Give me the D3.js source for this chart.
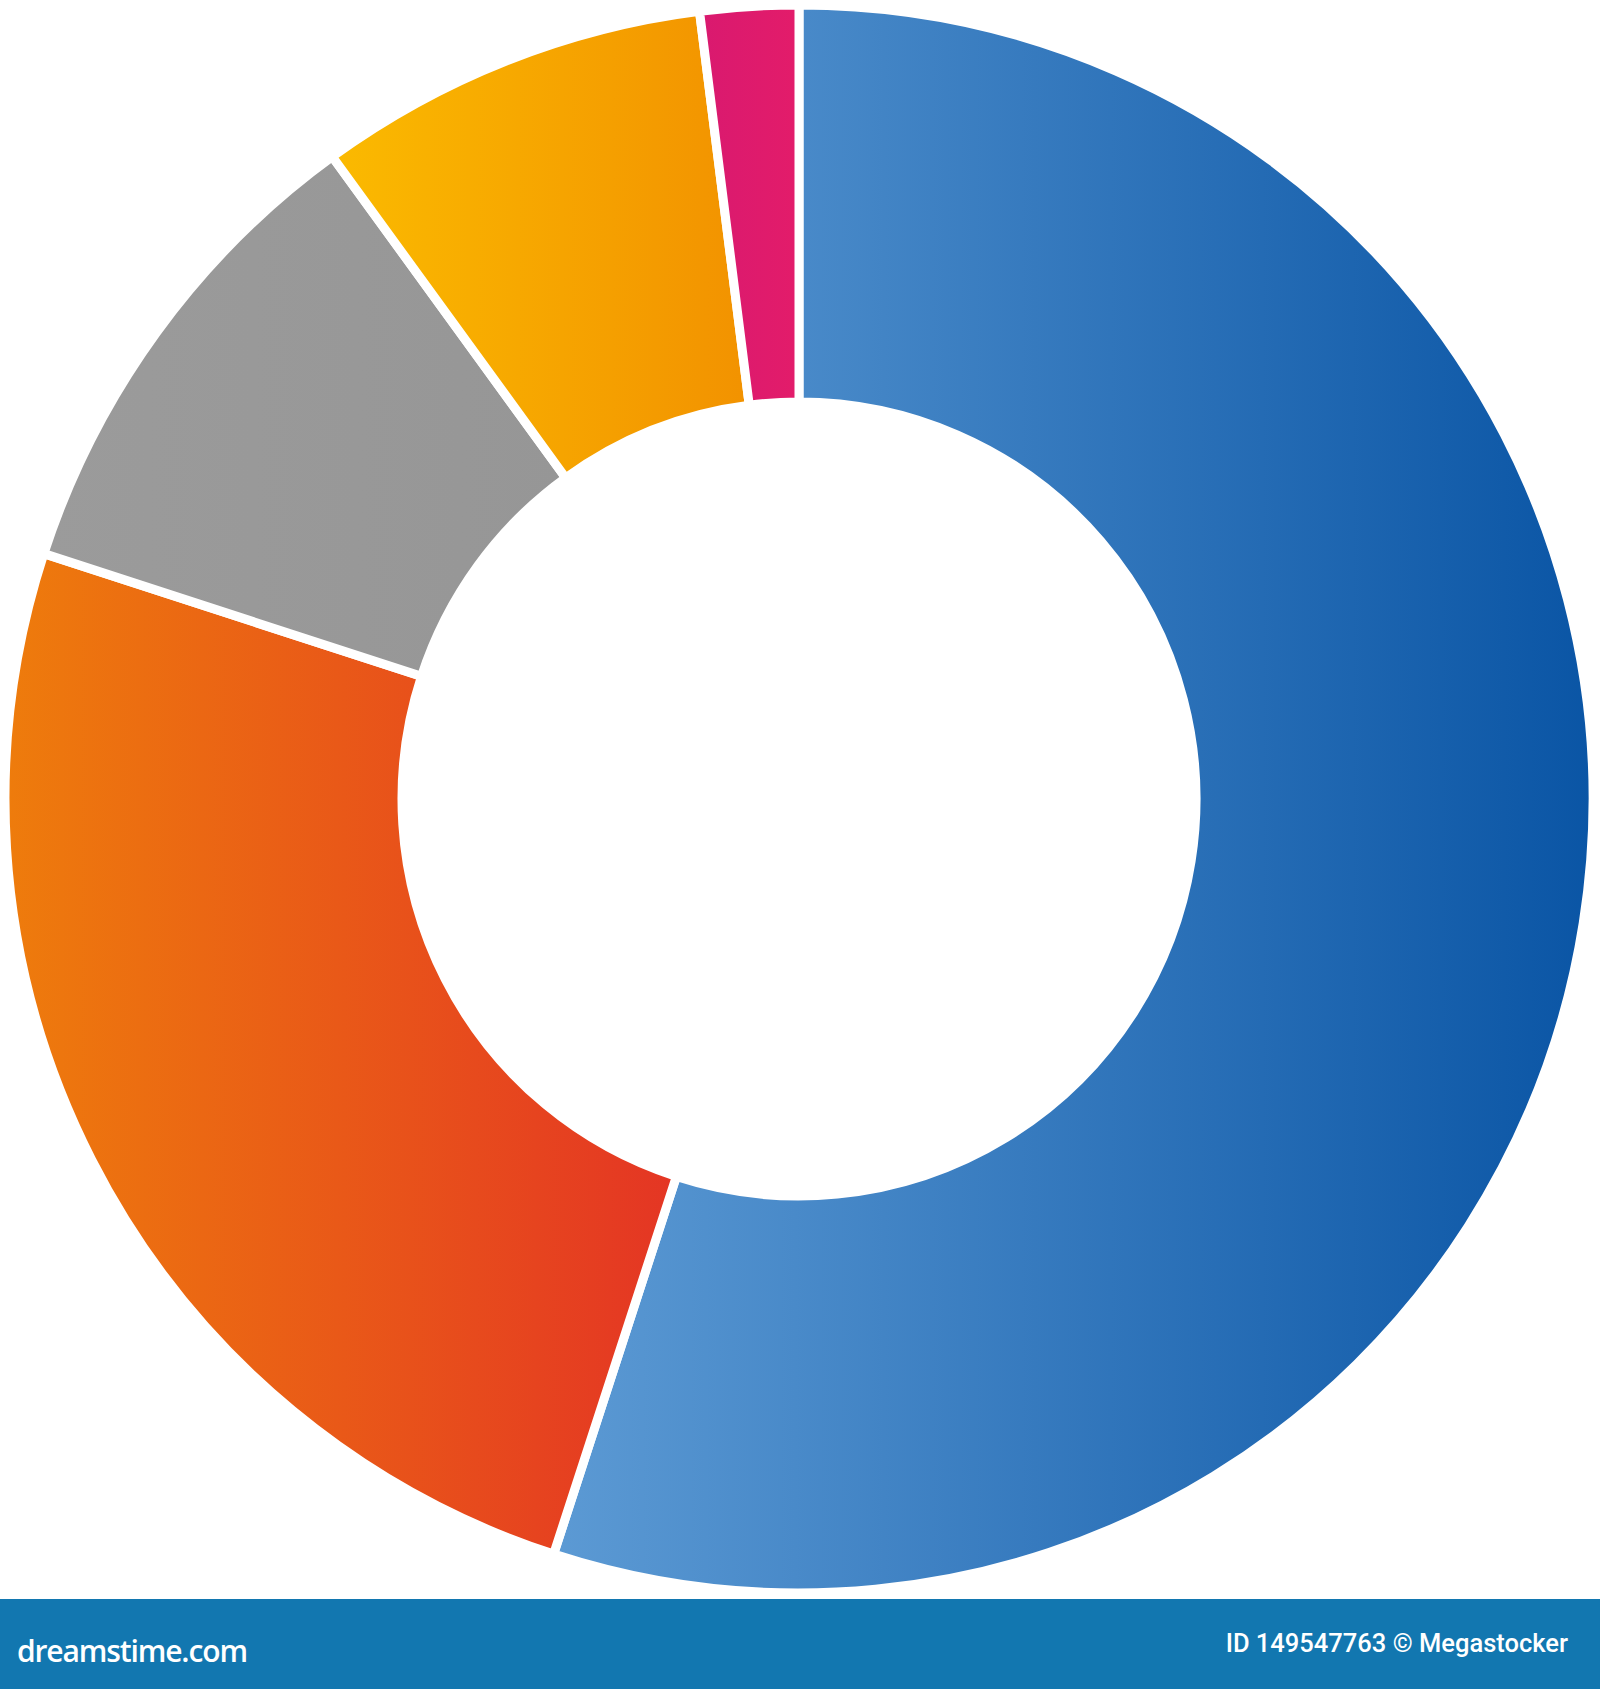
<!DOCTYPE html>
<html>
<head>
<meta charset="utf-8">
<script src="https://cdn.jsdelivr.net/npm/d3@7"></script>
<style>
  html, body { margin: 0; padding: 0; background: #fff; }
  svg { display: block; }
</style>
</head>
<body>
<svg id="chart" width="1600" height="1689"></svg>
<script>
const categories = ["Blue", "Orange", "Gray", "Yellow", "Pink"];
const values = [55, 25, 10, 8, 2];
const gradientStops = [
  ["#5c9ad4", "#0a55a5"],
  ["#ee7c0c", "#e43524"],
  ["#9b9b9b", "#969696"],
  ["#fbba00", "#f29200"],
  ["#d9196f", "#e31c6a"]
];
const footerLeft = "dreamstime.com";
const footerRight = "ID 149547763 \u00A9 Megastocker";

const svg = d3.select("#chart");
const W = 1600, H = 1689;
const cx = 799, cy = 799;
const outerR = 794, innerR = 397;

const defs = svg.append("defs");
categories.forEach((c, i) => {
  const g = defs.append("linearGradient")
    .attr("id", "grad" + i)
    .attr("x1", "0").attr("y1", "0").attr("x2", "1").attr("y2", "0");
  g.append("stop").attr("offset", "0%").attr("stop-color", gradientStops[i][0]);
  g.append("stop").attr("offset", "100%").attr("stop-color", gradientStops[i][1]);
});

const pie = d3.pie().sort(null).value(d => d.v);
const data = categories.map((c, i) => ({ c, v: values[i], i }));
const arc = d3.arc().innerRadius(innerR).outerRadius(outerR);

const g = svg.append("g").attr("transform", `translate(${cx},${cy})`);
g.selectAll("path")
  .data(pie(data))
  .join("path")
  .attr("d", arc)
  .attr("fill", d => `url(#grad${d.data.i})`)
  .attr("stroke", "#fff")
  .attr("stroke-width", 9)
  .attr("stroke-linejoin", "miter");

// footer band
svg.append("rect")
  .attr("x", 0).attr("y", 1599).attr("width", W).attr("height", H - 1599)
  .attr("fill", "#1277b0");
svg.append("text")
  .attr("x", 17).attr("y", 1662)
  .attr("fill", "#fff")
  .attr("font-family", "'Open Sans', sans-serif")
  .attr("font-weight", 600)
  .attr("font-size", 30)
  .attr("textLength", 231)
  .text(footerLeft);
svg.append("text")
  .attr("x", 1568).attr("y", 1652)
  .attr("text-anchor", "end")
  .attr("fill", "#fff")
  .attr("font-family", "Roboto, sans-serif")
  .attr("font-weight", 500)
  .attr("font-size", 25.5)
  .text(footerRight);
</script>
</body>
</html>
